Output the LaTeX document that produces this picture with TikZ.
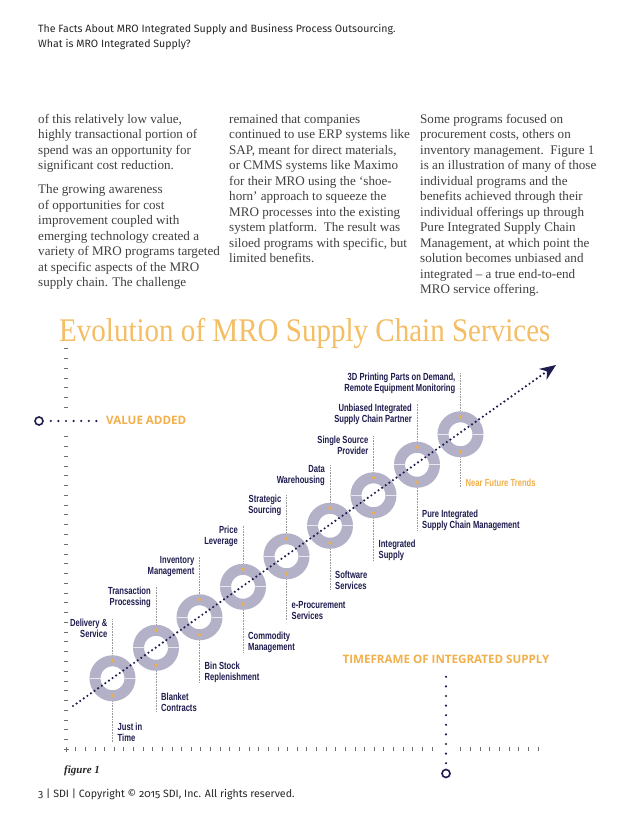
\documentclass[tikz,border=0pt]{standalone}
\usepackage{fontspec}
\setmainfont{Liberation Serif}
\newfontfamily\headfont[Numbers=OldStyle]{Fira Sans}
\newfontfamily\labelfont[FakeStretch=0.74]{Liberation Sans}
\newfontfamily\capsfont{Open Sans}
\newfontfamily\titlefont[FakeStretch=0.88]{Liberation Serif}
\usepackage{tikz}
\usetikzlibrary{arrows.meta,positioning}
\definecolor{labelnavy}{HTML}{1E1C4E}
\definecolor{ringgray}{HTML}{B3B1C7}
\definecolor{dotorange}{HTML}{EFAE48}
\definecolor{trendorange}{HTML}{F2B04C}
\definecolor{titleorange}{HTML}{F5BD64}
\definecolor{bodygray}{HTML}{404040}
\definecolor{tickgray}{HTML}{6E6E6E}

\begin{document}
\begin{tikzpicture}[x=1pt,y=1pt,
		body/.style={anchor=north west, inner sep=0pt, align=left, text=bodygray, font=\fontsize{13.1}{15.5}\selectfont},
		headtext/.style={anchor=base west, inner sep=0pt, align=left, text=black!85, font=\headfont\fontsize{10.6}{15}\selectfont},
		uplabel/.style={inner sep=0pt, align=right, text=labelnavy, font=\labelfont\bfseries\fontsize{10.3}{11}\selectfont},
		downlabel/.style={inner sep=0pt, align=left, text=labelnavy, font=\labelfont\bfseries\fontsize{10.3}{11}\selectfont},
		ringnode/.style={circle, draw=ringgray, line width=11pt, minimum size=35pt, inner sep=0pt},
		guide/.style={draw=black!40, line width=0.6pt, densely dotted},
		axistick/.style={draw=tickgray, line width=0.7pt},
		axislabel/.style={inner sep=0pt, text=trendorange, font=\capsfont\bfseries\fontsize{11.6}{12}\selectfont},
		markcircle/.style={circle, draw=labelnavy, line width=1.6pt, minimum size=8pt, inner sep=0pt},
		markdots/.style={draw=labelnavy, line width=2.4pt, line cap=round},
		trend/.style={draw=labelnavy, line width=2.4pt, line cap=round, dash pattern=on 0pt off 4.4pt, -{Stealth[length=16pt,width=13pt,inset=5pt]}}]
	\fill[white] (0,0) rectangle (638,826);
	\useasboundingbox (0,0) rectangle (638,826);
	\node[headtext] (head) at (38,778) {The Facts About MRO Integrated Supply and Business Process Outsourcing.\\What is MRO Integrated Supply?};
	\node[body] (colA) at (38,712) {of this relatively low value,\\highly transactional portion of\\spend was an opportunity for\\significant cost reduction.\\[8.5pt]The growing awareness\\of opportunities for cost\\improvement coupled with\\emerging technology created a\\variety of MRO programs targeted\\at specific aspects of the MRO\\supply chain. The challenge};
	\node[body] (colB) at (229,712) {remained that companies\\continued to use ERP systems like\\SAP, meant for direct materials,\\or CMMS systems like Maximo\\for their MRO using the ‘shoe-\\horn’ approach to squeeze the\\MRO processes into the existing\\system platform.\ \ The result was\\siloed programs with specific, but\\limited benefits.};
	\node[body] (colC) at (420,712) {Some programs focused on\\procurement costs, others on\\inventory management.\ \ Figure 1\\is an illustration of many of those\\individual programs and the\\benefits achieved through their\\individual offerings up through\\Pure Integrated Supply Chain\\Management, at which point the\\solution becomes unbiased and\\integrated -- a true end-to-end\\MRO service offering.};
	\node[anchor=base west, inner sep=0pt, text=titleorange, font=\titlefont\fontsize{33}{36}\selectfont] (title) at (59,484) {Evolution of MRO Supply Chain Services};

	\foreach \j in {1,...,32} \draw[axistick] (63.5,{76.7+9.77*\j}) -- (68,{76.7+9.77*\j});
	\foreach \j in {35,...,41} \draw[axistick] (63.5,{76.7+9.77*\j}) -- (68,{76.7+9.77*\j});
	\foreach \k in {1,...,38} \draw[axistick] ({66+9.63*\k},74.5) -- ({66+9.63*\k},79);
	\foreach \k in {41,...,49} \draw[axistick] ({66+9.63*\k},74.5) -- ({66+9.63*\k},79);
	\draw[axistick] (63.5,76.7) -- (68.5,76.7) (66,74.2) -- (66,79.2);

	\node[markcircle] (valuemark) at (39,405) {};
	\node[axislabel, anchor=base west] (valuelbl) at (106,401) {VALUE ADDED};
	\draw[markdots, dash pattern=on 0pt off 7.6pt, shorten <=7pt, shorten >=8pt] (valuemark) -- (valuemark -| valuelbl.west);
	\node[markcircle] (timemark) at (446,52.5) {};
	\node[axislabel, anchor=base] (timelbl) at (446,162) {TIMEFRAME OF INTEGRATED SUPPLY};
	\draw[markdots, dash pattern=on 0pt off 9.6pt, shorten <=5.5pt, shorten >=11pt] (timemark) -- (timemark |- timelbl.south);

	\foreach \i/\up/\down in {0/{Delivery \&\\Service}/{Just in\\Time},
			1/{Transaction\\Processing}/{Blanket\\Contracts},
			2/{Inventory\\Management}/{Bin Stock\\Replenishment},
			3/{Price\\Leverage}/{Commodity\\Management},
			4/{Strategic\\Sourcing}/{e-Procurement\\Services},
			5/{Data\\Warehousing}/{Software\\Services},
			6/{Single Source\\Provider}/{Integrated\\Supply},
			7/{Unbiased Integrated\\Supply Chain Partner}/{Pure Integrated\\Supply Chain Management},
			8/{3D Printing Parts on Demand,\\Remote Equipment Monitoring}/{\color{trendorange}Near Future Trends}} {
		\coordinate (c\i) at ({112.5+43.5*\i},{147.7+30.5*\i});
		\node[uplabel, above left=40pt and 5pt of c\i] (up\i) {\up};
		\node[downlabel, below right=45pt and 5pt of c\i] (down\i) {\down};
		\draw[guide] (up\i.north -| c\i) -- ([yshift=20pt]c\i);
		\draw[guide] ([yshift=-20pt]c\i) -- (down\i.south -| c\i);
		\node[ringnode] (r\i) at (c\i) {};
		\draw[white, line width=0.7pt, opacity=0.7] ([xshift=-23pt]c\i) -- ([xshift=-12pt]c\i) ([xshift=12pt]c\i) -- ([xshift=23pt]c\i);
		\fill[dotorange] ([yshift=17.5pt]c\i) circle (1.9pt);
		\fill[dotorange] ([yshift=-17.5pt]c\i) circle (1.9pt);
	}

	\coordinate (start) at (73,120);
	\coordinate (tip) at (556,461);
	\draw[trend] (start) -- (tip);

	\node[anchor=base west, inner sep=0pt, text=black!85, font=\bfseries\itshape\fontsize{11}{12}\selectfont] (fig) at (64,52) {figure 1};
	\node[headtext] (foot) at (38,28) {3 | SDI | Copyright © 2015 SDI, Inc. All rights reserved.};
\end{tikzpicture}
\end{document}
